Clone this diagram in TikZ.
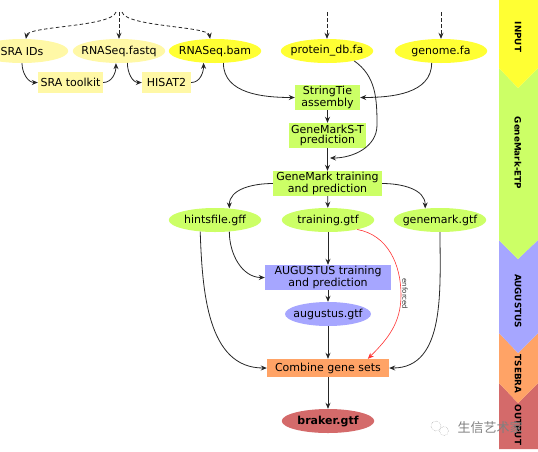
\documentclass[tikz,border=0pt]{standalone}
\usepackage{fontspec}
\setmainfont{DejaVu Sans}
\newfontfamily\cjk{Noto Sans CJK SC}
\usepackage{tikz}
\usepackage{xcolor}
\usetikzlibrary{arrows.meta,shapes.geometric}
\definecolor{inputyellow}{HTML}{FFFF33}
\definecolor{paleyellow}{HTML}{FFF8A6}
\definecolor{etpgreen}{HTML}{CCFF66}
\definecolor{augblue}{HTML}{A6A6FF}
\definecolor{tsebraorange}{HTML}{FFA366}
\definecolor{outred}{HTML}{D46A6A}
\definecolor{enforcedred}{HTML}{FF3333}
\tikzset{
  file/.style={shape=ellipse,fill=#1,inner xsep=-9pt,inner ysep=-4pt,minimum width=92.5pt,minimum height=24pt,font=\fontsize{11}{10.5}\selectfont},
  tool/.style={shape=rectangle,fill=#1,inner sep=0pt,align=center,font=\fontsize{11}{10.5}\selectfont},
  conn/.style={-{Stealth[length=6pt,width=5pt]},line width=.8pt,black!85},
  dashconn/.style={conn,dash pattern=on 3.5pt off 2.5pt},
  band/.style={font=\fontsize{8.8}{9}\selectfont\bfseries,rotate=-90},
}
\begin{document}
\begin{tikzpicture}[x=1pt,y=-1pt]
\useasboundingbox (0,0) rectangle (538,451);
% side bands
\fill[outred](499,383)--(518,403)--(538,383)--(538,449)--(499,449)--cycle;
\fill[tsebraorange](499,333)--(518,353)--(538,333)--(538,383)--(518,403)--(499,383)--cycle;
\fill[augblue](499,240)--(518,259)--(538,240)--(538,333)--(518,353)--(499,333)--cycle;
\fill[etpgreen](499,68)--(518,88)--(538,68)--(538,240)--(518,259)--(499,240)--cycle;
\fill[inputyellow](499,0)--(538,0)--(538,68)--(518,88)--(499,68)--cycle;
\node[band] (bandinput) at (518,37) {INPUT};
\node[band] (bandetp) at (518,153) {GeneMark-ETP};
\node[band] (bandaug) at (518,301) {AUGUSTUS};
\node[band] (bandtsebra) at (518,374) {TSEBRA};
\node[band] (bandout) at (518,425) {OUTPUT};
% files
\node[file=paleyellow] (sraids) at (22,51) {SRA IDs};
\node[file=paleyellow] (fastq) at (119,51) {RNASeq.fastq};
\node[file=inputyellow] (bam) at (215,51) {RNASeq.bam};
\node[file=inputyellow] (proteindb) at (327,51) {protein\_db.fa};
\node[file=inputyellow] (genome) at (441,51) {genome.fa};
\node[file=etpgreen] (hintsfile) at (215,220) {hintsfile.gff};
\node[file=etpgreen] (training) at (328,220) {training.gtf};
\node[file=etpgreen] (genemarkgtf) at (440,220) {genemark.gtf};
\node[file=augblue,minimum width=86pt] (augustusgtf) at (328,314) {augustus.gtf};
\node[file=outred] (braker) at (328,421) {\bfseries braker.gtf};
% tools
\node[tool=paleyellow,minimum width=65pt,minimum height=21pt] (toolkit) at (70.5,82.5) {SRA toolkit};
\node[tool=paleyellow,minimum width=49pt,minimum height=21pt] (hisat) at (166.5,82.5) {HISAT2};
\node[tool=etpgreen,minimum width=65pt,minimum height=25pt] (stringtie) at (327.5,97.5) {StringTie\\assembly};
\node[tool=etpgreen,minimum width=77pt,minimum height=25pt] (genemarks) at (327.5,135.5) {GeneMarkS-T\\prediction};
\node[tool=etpgreen,minimum width=109pt,minimum height=25pt] (gmtrain) at (327.5,183.5) {GeneMark training\\and prediction};
\node[tool=augblue,minimum width=126pt,minimum height=25pt] (augtrain) at (328,277.5) {AUGUSTUS training\\and prediction};
\node[tool=tsebraorange,minimum width=122pt,minimum height=18pt] (combine) at (328,368) {Combine gene sets};
% free ends
\coordinate (srctop) at (119,12);
\coordinate (srcleft) at (116,12);
\coordinate (srcright) at (122,12);
\coordinate (prottop) at (327,12);
\coordinate (gentop) at (441,12);
\coordinate (protbend) at (377,125);
\coordinate (protend) at (330,158);
\coordinate (redbend) at (401,295);
% dashed inputs
\draw[dashconn](srcleft) .. controls (112,27) and (28,26) .. (sraids.72);
\draw[dashconn](srctop)--(fastq.north);
\draw[dashconn](srcright) .. controls (126,27) and (208,26) .. (bam.112);
\draw[dashconn](prottop)--(proteindb.north);
\draw[dashconn](gentop)--(genome.north);
% top row
\draw[conn](sraids.south) to[out=-90,in=180] (toolkit.west);
\draw[conn](toolkit.east) to[out=0,in=-90] (fastq.-104);
\draw[conn](fastq.-55) to[out=-90,in=180] (hisat.west);
\draw[conn](hisat.east) to[out=0,in=-90] (bam.-134);
\draw[conn](bam.-55) to[out=-90,in=180] (stringtie.west);
\draw[conn](genome.-128) to[out=-90,in=0] (stringtie.east);
\draw[conn](proteindb.-20) to[out=-35,in=90] (protbend) to[out=-90,in=0] (protend);
% centre
\draw[conn](stringtie)--(genemarks);
\draw[conn](genemarks)--(gmtrain);
\draw[conn](gmtrain.west) to[out=180,in=90] (hintsfile.39);
\draw[conn](gmtrain.east) to[out=0,in=90] (genemarkgtf.142);
\draw[conn](gmtrain)--(training);
\draw[conn](training)--(augtrain);
\draw[conn](hintsfile.-39) to[out=-90,in=180] (augtrain.west);
\draw[conn](augtrain)--(augustusgtf);
\draw[conn](augustusgtf)--(combine);
\draw[conn](combine)--(braker);
\draw[conn](hintsfile.-142) to[out=-88,in=180] (combine.west);
\draw[conn](genemarkgtf.south) to[out=-90,in=0] (combine.east);
\draw[conn,enforcedred,line width=.6pt](training.-18) to[out=-10,in=90] (redbend) to[out=-90,in=45] (combine.13);
\node[rotate=-90,font=\fontsize{7}{7}\selectfont,black!80] (enforced) at (405,294) {enforced};
% watermark
\node[circle,draw=black!45,densely dotted,inner sep=0pt,minimum size=10pt] (wxleft) at (436,426) {};
\node[circle,draw=black!45,densely dotted,inner sep=0pt,minimum size=9pt] (wxright) at (444,431) {};
\node[font=\cjk\fontsize{13}{13}\selectfont,text=black!50] (watermark) at (490,428) {生信艺术家};
\end{tikzpicture}
\end{document}
